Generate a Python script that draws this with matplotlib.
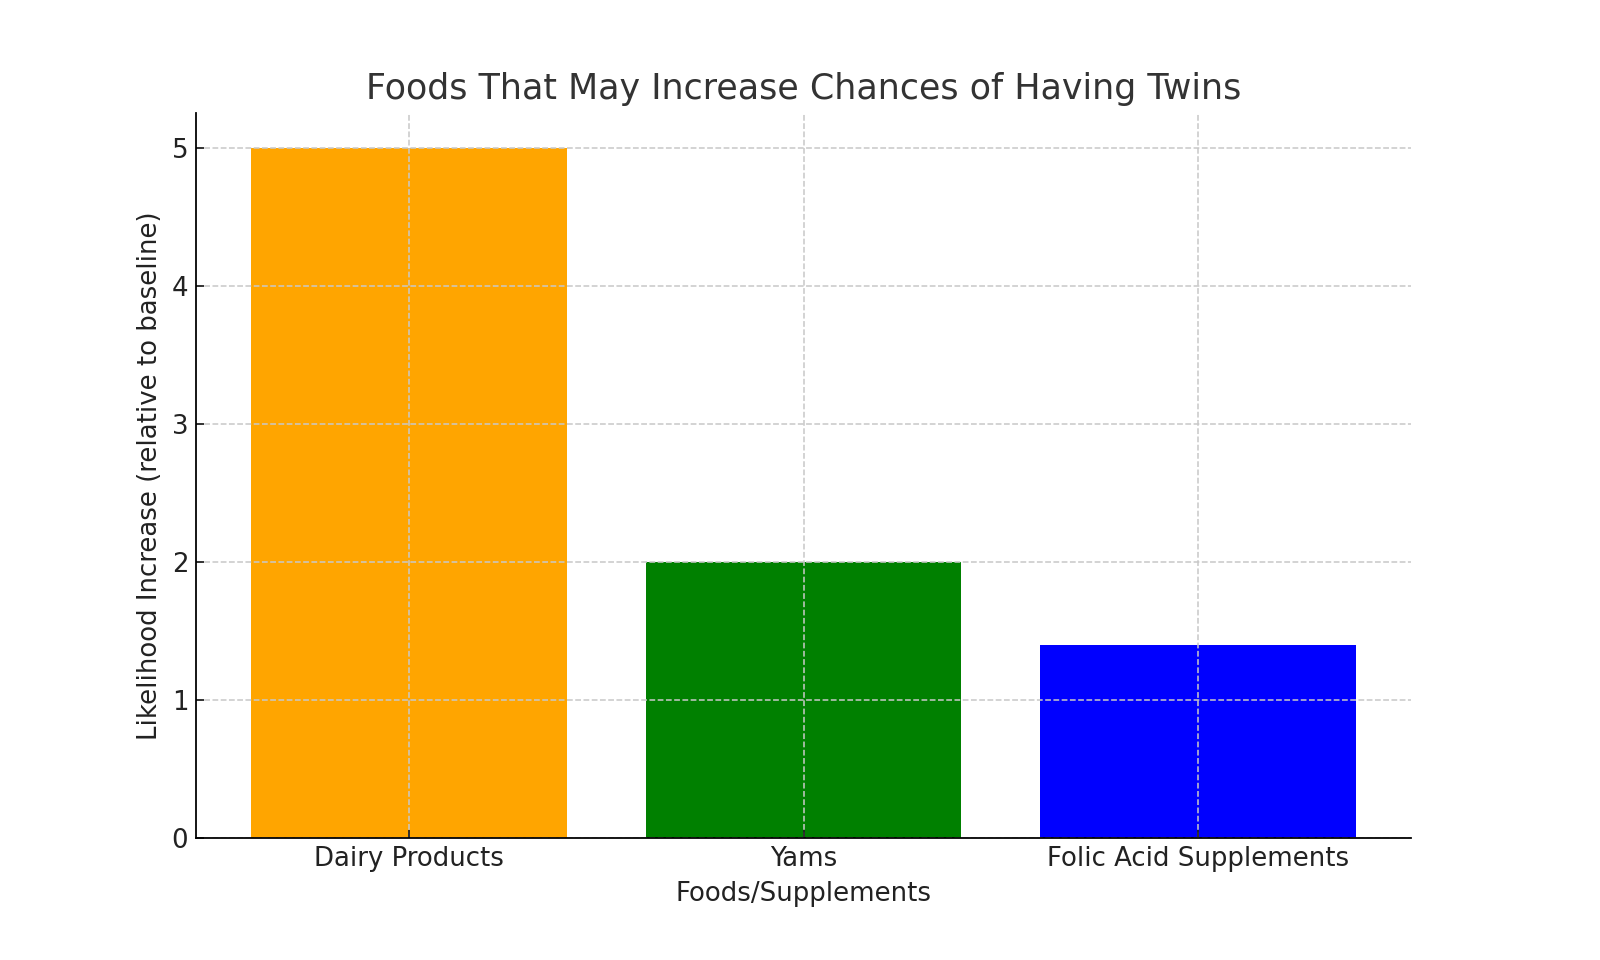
import matplotlib
matplotlib.use("Agg")
import matplotlib.pyplot as plt

categories = ["Dairy Products", "Yams", "Folic Acid Supplements"]
values = [5, 2, 1.4]
colors = ["orange", "green", "blue"]

fig = plt.figure(figsize=(10, 6), dpi=160)
ax = fig.add_axes([0.1225, 0.127, 0.7595, 0.755])
ax.bar(categories, values, color=colors, width=0.8, zorder=1)
ax.set_ylim(0, 5.25)
ax.set_xlim(-0.54, 2.54)
ax.set_title("Foods That May Increase Chances of Having Twins", fontsize=15.7, color="#333333", pad=6.5)
ax.set_xlabel("Foods/Supplements", fontsize=11.7, color="#222222", labelpad=4)
ax.set_ylabel("Likelihood Increase (relative to baseline)", fontsize=11.7, color="#222222")
ax.tick_params(labelsize=11.7, colors="#222222", direction="in")
ax.grid(True, linestyle="--", color="#c8c8c8", linewidth=0.7, zorder=2)
ax.set_axisbelow(False)
for s in ["top", "right"]:
    ax.spines[s].set_visible(False)
for s in ["left", "bottom"]:
    ax.spines[s].set_zorder(3)
fig.savefig("out.png", dpi=160)
